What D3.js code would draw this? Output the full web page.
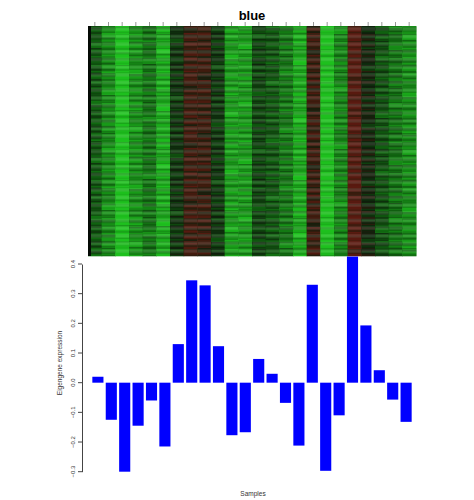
<!DOCTYPE html><html><head><meta charset="utf-8">
<script src="https://cdn.jsdelivr.net/npm/d3@7"></script>
<style>body{margin:0;background:#fff}svg{font-family:"Liberation Sans",Arial,sans-serif}</style></head><body>
<script>
const samples = d3.range(1,25).map(i=>"S"+i);
const eigengene = [0.02,-0.125,-0.30,-0.145,-0.06,-0.215,0.13,0.345,0.328,0.123,-0.177,-0.167,0.08,0.03,-0.068,-0.212,0.33,-0.297,-0.11,0.425,0.193,0.042,-0.057,-0.132];
const yTicks = [-0.3,-0.2,-0.1,0.0,0.1,0.2,0.3,0.4];
const rowNoise = [0.3,-0.5,0.1,0.8,-0.2,-0.9,0.4,0.0,-0.6,0.7,-0.1,0.5,-0.8,0.2,0.9,-0.4,0.6,-0.3,0.1,-0.7,0.35,-0.15,0.75,-0.55,0.05,0.45,-0.85,0.25,-0.35,0.65,-0.05,0.15,-0.65,0.85,-0.25,0.55,-0.45,0.95,-0.75,0.0,0.2,-0.3,0.6,-0.9,0.4,-0.1,0.7,-0.5,0.3,-0.2];
const nRows = 200;

const svg = d3.select("body").append("svg").attr("width",474).attr("height",500);
const x = d3.scaleBand().domain(samples).range([88,416]).padding(0);
const xb = d3.scaleBand().domain(samples).range([91,413]).paddingInner(0.17).paddingOuter(0.1);
const yr = d3.scaleBand().domain(d3.range(nRows)).range([26,256]);
const col = d3.scaleLinear().domain([-0.3,0.0,0.2,0.45]).range(["#1ec01e","#0f5a0f","#0e200c","#5a1a10"]).clamp(true);

svg.append("text").attr("x",252).attr("y",20).attr("text-anchor","middle").attr("font-weight","bold").attr("font-size",13).text("blue");
const g = svg.append("g");
samples.forEach((s,c)=>{
  d3.range(nRows).forEach(r=>{
    const v = eigengene[c] + 0.11*rowNoise[(r*7+c*13)%rowNoise.length];
    g.append("rect").attr("x",x(s)).attr("y",yr(r)).attr("width",x.bandwidth()+0.5).attr("height",yr.bandwidth()+0.3).attr("fill",col(v));
  });
  svg.append("line").attr("x1",x(s)+x.bandwidth()/2).attr("x2",x(s)+x.bandwidth()/2).attr("y1",26).attr("y2",22).attr("stroke","#999");
});
svg.append("rect").attr("x",88).attr("y",26).attr("width",3).attr("height",230).attr("fill","#050a05");

const y = d3.scaleLinear().domain([-0.3,0.4]).range([471.7,264]);
svg.selectAll(".bar").data(eigengene).enter().append("rect")
  .attr("x",(d,i)=>xb(samples[i])).attr("width",xb.bandwidth())
  .attr("y",d=>y(Math.max(0,d))).attr("height",d=>Math.abs(y(d)-y(0))).attr("fill","#0000ff");
const ax = svg.append("g").attr("transform","translate(82,0)").call(d3.axisLeft(y).tickValues(yTicks).tickFormat(d3.format(".1f")).tickSize(4).tickSizeOuter(0));
ax.select(".domain").attr("stroke","#444");
ax.selectAll("line").attr("stroke","#444");
ax.selectAll("text").attr("font-size",6).attr("fill","#333").attr("transform",function(d){return "rotate(-90,"+(-9)+","+y(d)+")";})
  .attr("x",-9).attr("y",d=>y(d)).attr("dy","0.35em").attr("text-anchor","middle").attr("dx",0);
ax.selectAll(".tick").attr("transform",null);
ax.selectAll(".tick line").attr("y1",d=>y(d)).attr("y2",d=>y(d));
svg.append("text").attr("transform","translate(62,363) rotate(-90)").attr("text-anchor","middle").attr("font-size",6.5).attr("fill","#333").text("Eigengene expression");
svg.append("text").attr("x",253).attr("y",496).attr("text-anchor","middle").attr("font-size",6.5).attr("fill","#333").text("Samples");
</script></body></html>
